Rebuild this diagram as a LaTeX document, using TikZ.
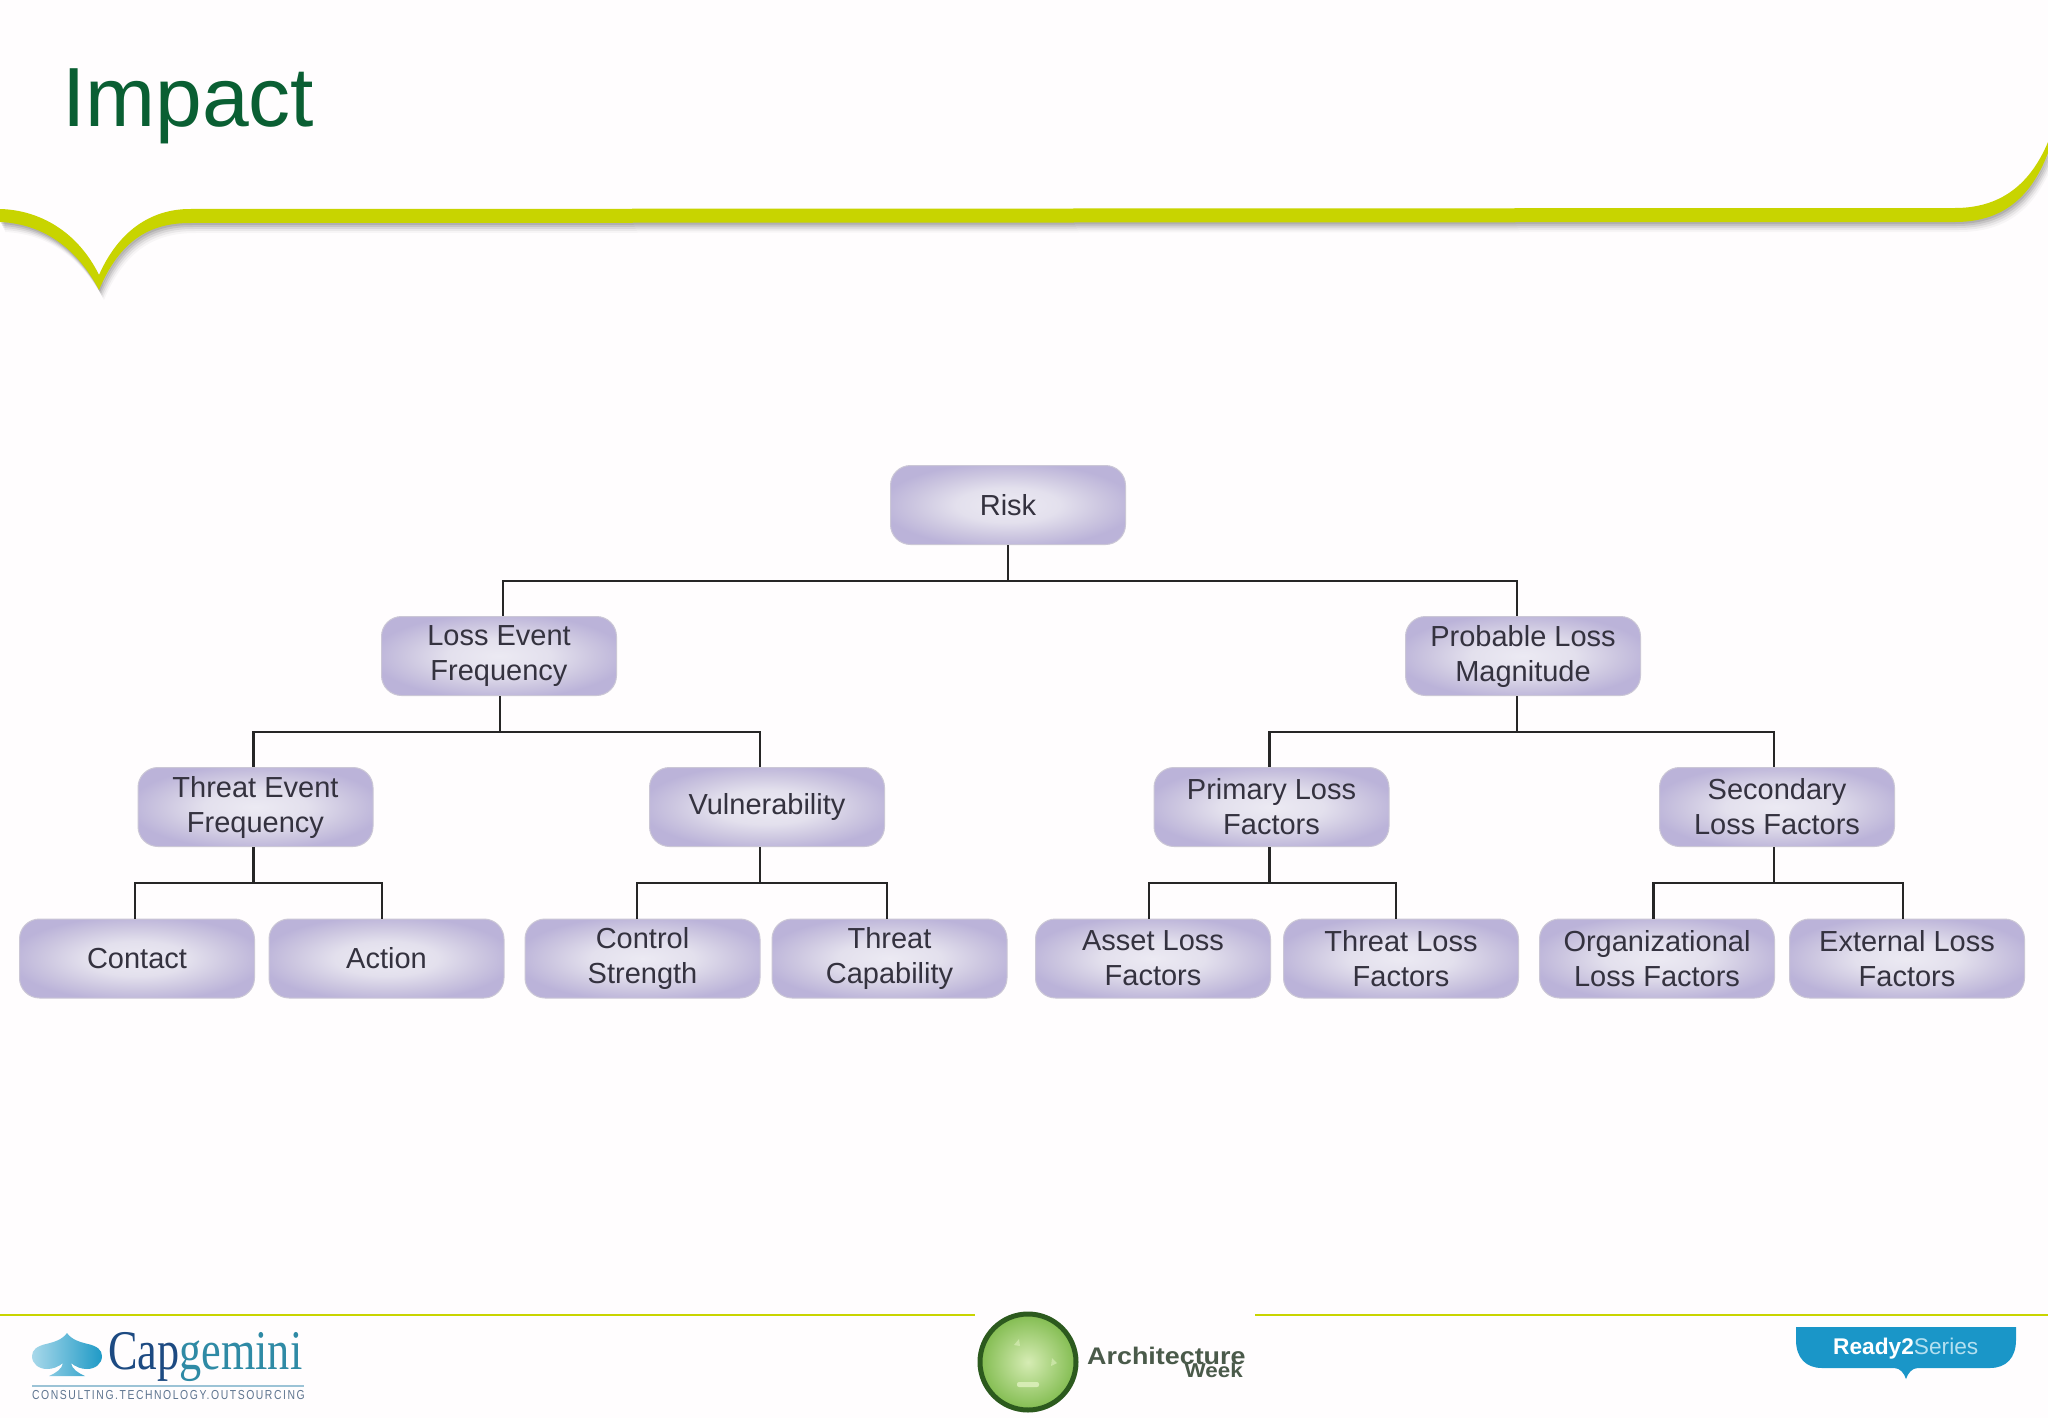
\documentclass[tikz,border=0pt]{standalone}
\usepackage{fontspec}
\setmainfont{Liberation Sans}
\newfontfamily\logoserif{Liberation Serif}
\newfontfamily\tagfont[LetterSpace=15]{Liberation Sans}
\definecolor{pagebg}{HTML}{FFFDFE}
\definecolor{bandyellow}{HTML}{C8D400}
\definecolor{titlegreen}{HTML}{0A5F33}
\definecolor{boxline}{HTML}{CBC7D6}
\definecolor{glowa}{HTML}{ECEAF3}
\definecolor{glowb}{HTML}{E3E0ED}
\definecolor{glowc}{HTML}{CCC6E0}
\definecolor{glowd}{HTML}{BBB3D9}
\definecolor{labelgrey}{HTML}{34323F}
\definecolor{linkdark}{HTML}{262626}
\definecolor{capblue}{HTML}{1D4A82}
\definecolor{capteal}{HTML}{2F8AA5}
\definecolor{tagblue}{HTML}{5F7590}
\definecolor{ruleblue}{HTML}{9CC3D6}
\definecolor{spadelight}{HTML}{A8D8EA}
\definecolor{spadedark}{HTML}{1F9AC6}
\definecolor{archdark}{HTML}{2C5A1E}
\definecolor{archouter}{HTML}{82BC50}
\definecolor{archinner}{HTML}{D6ECB4}
\definecolor{archtext}{HTML}{4A5A4A}
\definecolor{readyblue}{HTML}{1A96C8}
\definecolor{readypale}{HTML}{B4E0F0}
\pgfdeclareradialshading{boxglow}{\pgfpoint{0bp}{0bp}}{%
  color(0bp)=(glowa);
  color(11bp)=(glowb);
  color(20bp)=(glowc);
  color(27bp)=(glowd);
  color(50bp)=(glowd)}
\tikzset{
  riskbox/.style={rounded corners=20pt, draw=boxline, line width=1pt, shading=boxglow,
    minimum width=235pt, minimum height=79pt,
    inner sep=0pt, align=center, text=labelgrey, font=\fontsize{29}{35}\selectfont},
  link/.style={draw=linkdark, line width=2.4pt},
  footline/.style={draw=bandyellow, line width=2pt},
  archlabel/.style={inner sep=0pt, text=archtext, xscale=1.12}
}
\newcommand{\bandpath}{
  (0,209) .. controls (40,210) and (78,232) .. (99,275)
  .. controls (118,232) and (150,209) .. (190,209)
  -- (1955,208) .. controls (2000,208) and (2030,185) .. (2048,142)
  -- (2048,153) .. controls (2030,200) and (2000,222) .. (1955,222)
  -- (190,223) .. controls (150,223) and (120,240) .. (99,290)
  .. controls (78,250) and (45,224) .. (0,222) -- cycle}
\begin{document}
\begin{tikzpicture}[x=1pt,y=-1pt]
\useasboundingbox (0,0) rectangle (2048,1418);
\fill[pagebg] (0,0) rectangle (2048,1418);

% header
\node[anchor=base west, inner sep=0pt, text=titlegreen, font=\fontsize{84}{90}\selectfont] (title) at (62,127) {Impact};
\foreach \d/\o in {10/.03,8/.05,6/.07,4/.09,2/.1}{
  \begin{scope}[shift={(\d*0.5,\d)}]
    \fill[black,opacity=\o] \bandpath;
  \end{scope}
}
\fill[bandyellow] \bandpath;

% tree nodes
\node[riskbox] (risk) at (1008,505) {Risk};
\node[riskbox] (lef) at (499,656) {Loss Event\\Frequency};
\node[riskbox] (plm) at (1523,656) {Probable Loss\\Magnitude};
\node[riskbox] (tef) at (255.5,807) {Threat Event\\Frequency};
\node[riskbox] (vul) at (767,807) {Vulnerability};
\node[riskbox] (plf) at (1271.5,807) {Primary Loss\\Factors};
\node[riskbox] (slf) at (1777,807) {Secondary\\Loss Factors};
\node[riskbox] (con) at (137,958.5) {Contact};
\node[riskbox] (act) at (386.5,958.5) {Action};
\node[riskbox] (cst) at (642.5,958.5) {Control\\Strength};
\node[riskbox] (tca) at (889.5,958.5) {Threat\\Capability};
\node[riskbox] (alf) at (1153,958.5) {Asset Loss\\Factors};
\node[riskbox] (tlf) at (1401,958.5) {Threat Loss\\Factors};
\node[riskbox] (olf) at (1657,958.5) {Organizational\\Loss Factors};
\node[riskbox] (elf) at (1907,958.5) {External Loss\\Factors};

% connectors
\draw[link] (risk.south) -- ++(0,36) coordinate (jr) -| ([xshift=4pt]lef.north) (jr) -| ([xshift=-6pt]plm.north);
\draw[link] ([xshift=1pt]lef.south) -- ++(0,36) coordinate (jl) -| ([xshift=-2pt]tef.north) (jl) -| ([xshift=-7pt]vul.north);
\draw[link] ([xshift=-6pt]plm.south) -- ++(0,36) coordinate (jp) -| ([xshift=-2pt]plf.north) (jp) -| ([xshift=-3pt]slf.north);
\draw[link] ([xshift=-2pt]tef.south) -- ++(0,36) coordinate (jt) -| ([xshift=-2pt]con.north) (jt) -| ([xshift=-4.5pt]act.north);
\draw[link] ([xshift=-7pt]vul.south) -- ++(0,36) coordinate (jv) -| ([xshift=-5.5pt]cst.north) (jv) -| ([xshift=-2.5pt]tca.north);
\draw[link] ([xshift=-2pt]plf.south) -- ++(0,36) coordinate (jf) -| ([xshift=-4pt]alf.north) (jf) -| ([xshift=-5pt]tlf.north);
\draw[link] ([xshift=-3pt]slf.south) -- ++(0,36) coordinate (js) -| ([xshift=-3.5pt]olf.north) (js) -| ([xshift=-4pt]elf.north);

% footer rules
\draw[footline] (0,1315) -- (975,1315);
\draw[footline] (1255,1315) -- (2048,1315);

% Capgemini logo
\shade[left color=spadelight, right color=spadedark]
  (67,1333) .. controls (72,1340) and (80,1342) .. (88,1344)
  .. controls (97,1346) and (102,1350) .. (102,1356)
  .. controls (102,1364) and (95,1369) .. (87,1369)
  .. controls (81,1369) and (76,1367) .. (71,1363)
  .. controls (72,1369) and (78,1373) .. (85,1376)
  -- (49,1376) .. controls (56,1373) and (62,1369) .. (63,1363)
  .. controls (58,1367) and (53,1369) .. (47,1369)
  .. controls (39,1369) and (32,1364) .. (32,1356)
  .. controls (32,1350) and (37,1346) .. (46,1344)
  .. controls (54,1342) and (62,1340) .. (67,1333) -- cycle;
\node[anchor=base west, inner sep=0pt, xscale=.79, font=\logoserif\fontsize{56}{60}\selectfont] (capname) at (108,1369)
  {\textcolor{capblue}{Cap}\textcolor{capteal}{gemini}};
\draw[draw=ruleblue, line width=1.5pt] (32,1386) -- (304,1386);
\node[anchor=base west, inner sep=0pt, xscale=.8, text=tagblue, font=\tagfont\fontsize{13}{14}\selectfont] (captag) at (32,1399) {CONSULTING.TECHNOLOGY.OUTSOURCING};

% Architecture Week logo
\shade[inner color=archinner, outer color=archouter, draw=archdark, line width=5pt] (1028,1362) circle (48);
\fill[archinner, rounded corners=2pt] (1017,1382) rectangle (1039,1387);
\fill[archinner, opacity=.7] (1014,1345) -- (1019,1339) -- (1020,1346) -- cycle;
\fill[archinner, opacity=.7] (1052,1358) -- (1057,1363) -- (1051,1366) -- cycle;
\node[anchor=base west, archlabel, font=\bfseries\fontsize{24}{26}\selectfont] (archname) at (1087,1364) {Architecture};
\node[anchor=base east, archlabel, font=\bfseries\fontsize{20}{22}\selectfont] (archweek) at (1243,1377) {Week};

% Ready2Series badge
\fill[readyblue] (1796,1327) -- (2016,1327) -- (2016,1340)
  .. controls (2016,1358) and (2006,1368) .. (1990,1368)
  -- (1918,1368) .. controls (1912,1368) and (1908,1373) .. (1906,1379)
  .. controls (1904,1373) and (1900,1368) .. (1894,1368)
  -- (1822,1368) .. controls (1806,1368) and (1796,1358) .. (1796,1340) -- cycle;
\node[anchor=base west, inner sep=0pt, font=\fontsize{22.7}{25}\selectfont] (readyname) at (1833,1354)
  {\textcolor{white}{\bfseries Ready2}\textcolor{readypale}{Series}};
\end{tikzpicture}
\end{document}
